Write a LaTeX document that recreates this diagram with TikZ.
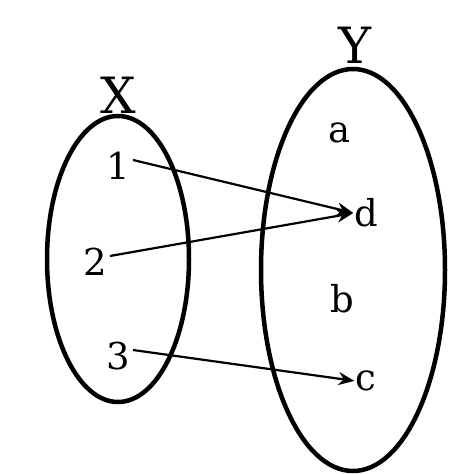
\documentclass[tikz,border=0pt]{standalone}
\usepackage{fontspec}
\setmainfont{DejaVu Serif}
\usetikzlibrary{arrows.meta}
\begin{document}
\begin{tikzpicture}[x=1pt,y=-1pt,
  setel/.style={line width=4.5pt},
  big/.style={font=\fontsize{50}{52}\selectfont, inner sep=0pt},
  elem/.style={font=\fontsize{37}{39}\selectfont, inner sep=0pt},
  maparrow/.style={line width=2.2pt,-{Stealth[length=16pt,width=13pt]}, shorten >=1pt}]
\useasboundingbox[fill=white] (0,0) rectangle (474,474);
\draw[setel] (118,259) ellipse [x radius=71, y radius=143];
\draw[setel] (353,270) ellipse [x radius=92, y radius=201];
\node[big] (X) at (118,95) {X};
\node[big] (Y) at (355,45) {Y};
\node[elem] (n1) at (118,166) {1};
\node[elem] (n2) at (95,262) {2};
\node[elem] (n3) at (118,356) {3};
\node[elem] (a) at (340,133) {a};
\node[elem] (d) at (366,213) {d};
\node[elem] (b) at (342,299) {b};
\node[elem] (c) at (366,381) {c};
\coordinate (s1) at (133,160);
\coordinate (s2) at (110,256);
\coordinate (s3) at (133,350);
\draw[maparrow] (s1) -- (d.west);
\draw[maparrow] (s2) -- (d.west);
\draw[maparrow] (s3) -- (c.west);
\end{tikzpicture}
\end{document}
